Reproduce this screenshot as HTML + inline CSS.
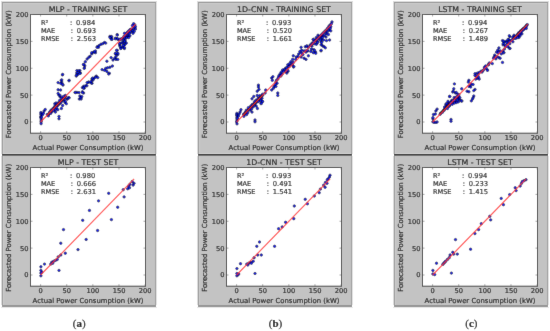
<!DOCTYPE html><html><head><meta charset="utf-8"><style>html,body{margin:0;padding:0;background:#fff;width:550px;height:331px;overflow:hidden}svg{display:block} text{stroke:#1a1a1a;stroke-width:0.16px;paint-order:stroke}</style></head><body>
<svg width="550" height="331" viewBox="0 0 550 331">
<defs><filter id="soft" x="0" y="0" width="550" height="331" filterUnits="userSpaceOnUse"><feConvolveMatrix order="3" kernelMatrix="5 62 5 62 733 62 5 62 5" edgeMode="duplicate"/></filter></defs><g filter="url(#soft)">
<rect x="0" y="0" width="550" height="331" fill="#fff"/>
<rect x="2" y="2" width="153.5" height="152" fill="#c3c3c3"/>
<rect x="1" y="2" width="1" height="152" fill="#dadada"/>
<rect x="2" y="2" width="1" height="152" fill="#9c9c9c"/>
<rect x="3" y="2" width="1" height="152" fill="#cacaca"/>
<rect x="155" y="2" width="1" height="152" fill="#a0a0a0"/>
<rect x="156" y="2" width="1" height="152" fill="#e2e2e2"/>
<rect x="1" y="1" width="156" height="1" fill="#dcdcdc"/>
<rect x="2" y="2" width="154" height="1" fill="#979797"/>
<rect x="3" y="3" width="152" height="1" fill="#cacaca"/>
<rect x="3" y="153" width="152" height="1" fill="#d0d0d0"/>
<rect x="2" y="154" width="154" height="1" fill="#2e2e2e"/>
<rect x="2" y="155" width="154" height="1" fill="#6e6e6e"/>
<rect x="30.5" y="14.5" width="115.0" height="118.69999999999999" fill="#fff" stroke="#404040" stroke-width="1"/>
<line x1="40.60" y1="133.2" x2="40.60" y2="131.2" stroke="#666" stroke-width="0.6"/>
<line x1="40.60" y1="14.5" x2="40.60" y2="16.5" stroke="#666" stroke-width="0.6"/>
<line x1="30.5" y1="122.00" x2="32.5" y2="122.00" stroke="#666" stroke-width="0.6"/>
<line x1="145.5" y1="122.00" x2="143.5" y2="122.00" stroke="#666" stroke-width="0.6"/>
<text x="40.75" y="140.30" font-size="6.7" text-anchor="middle" fill="#1a1a1a" font-family="'DejaVu Sans', 'Liberation Sans', sans-serif">0</text>
<text x="28.50" y="124.40" font-size="6.7" text-anchor="end" fill="#1a1a1a" font-family="'DejaVu Sans', 'Liberation Sans', sans-serif">0</text>
<line x1="66.72" y1="133.2" x2="66.72" y2="131.2" stroke="#666" stroke-width="0.6"/>
<line x1="66.72" y1="14.5" x2="66.72" y2="16.5" stroke="#666" stroke-width="0.6"/>
<line x1="30.5" y1="95.12" x2="32.5" y2="95.12" stroke="#666" stroke-width="0.6"/>
<line x1="145.5" y1="95.12" x2="143.5" y2="95.12" stroke="#666" stroke-width="0.6"/>
<text x="66.88" y="140.30" font-size="6.7" text-anchor="middle" fill="#1a1a1a" font-family="'DejaVu Sans', 'Liberation Sans', sans-serif">50</text>
<text x="28.50" y="97.53" font-size="6.7" text-anchor="end" fill="#1a1a1a" font-family="'DejaVu Sans', 'Liberation Sans', sans-serif">50</text>
<line x1="92.85" y1="133.2" x2="92.85" y2="131.2" stroke="#666" stroke-width="0.6"/>
<line x1="92.85" y1="14.5" x2="92.85" y2="16.5" stroke="#666" stroke-width="0.6"/>
<line x1="30.5" y1="68.25" x2="32.5" y2="68.25" stroke="#666" stroke-width="0.6"/>
<line x1="145.5" y1="68.25" x2="143.5" y2="68.25" stroke="#666" stroke-width="0.6"/>
<text x="93.00" y="140.30" font-size="6.7" text-anchor="middle" fill="#1a1a1a" font-family="'DejaVu Sans', 'Liberation Sans', sans-serif">100</text>
<text x="28.50" y="70.65" font-size="6.7" text-anchor="end" fill="#1a1a1a" font-family="'DejaVu Sans', 'Liberation Sans', sans-serif">100</text>
<line x1="118.97" y1="133.2" x2="118.97" y2="131.2" stroke="#666" stroke-width="0.6"/>
<line x1="118.97" y1="14.5" x2="118.97" y2="16.5" stroke="#666" stroke-width="0.6"/>
<line x1="30.5" y1="41.38" x2="32.5" y2="41.38" stroke="#666" stroke-width="0.6"/>
<line x1="145.5" y1="41.38" x2="143.5" y2="41.38" stroke="#666" stroke-width="0.6"/>
<text x="119.12" y="140.30" font-size="6.7" text-anchor="middle" fill="#1a1a1a" font-family="'DejaVu Sans', 'Liberation Sans', sans-serif">150</text>
<text x="28.50" y="43.77" font-size="6.7" text-anchor="end" fill="#1a1a1a" font-family="'DejaVu Sans', 'Liberation Sans', sans-serif">150</text>
<line x1="145.10" y1="133.2" x2="145.10" y2="131.2" stroke="#666" stroke-width="0.6"/>
<line x1="145.10" y1="14.5" x2="145.10" y2="16.5" stroke="#666" stroke-width="0.6"/>
<line x1="30.5" y1="14.50" x2="32.5" y2="14.50" stroke="#666" stroke-width="0.6"/>
<line x1="145.5" y1="14.50" x2="143.5" y2="14.50" stroke="#666" stroke-width="0.6"/>
<text x="145.25" y="140.30" font-size="6.7" text-anchor="middle" fill="#1a1a1a" font-family="'DejaVu Sans', 'Liberation Sans', sans-serif">200</text>
<text x="28.50" y="16.90" font-size="6.7" text-anchor="end" fill="#1a1a1a" font-family="'DejaVu Sans', 'Liberation Sans', sans-serif">200</text>
<g fill="#0818ff" stroke="#000028" stroke-width="0.6"><circle cx="40.84" cy="112.53" r="1.2"/><circle cx="40.92" cy="113.94" r="1.2"/><circle cx="41.08" cy="114.99" r="1.2"/><circle cx="40.71" cy="116.83" r="1.2"/><circle cx="40.86" cy="117.84" r="1.2"/><circle cx="41.3" cy="119.36" r="1.2"/><circle cx="41.2" cy="120.74" r="1.2"/><circle cx="41.08" cy="121.92" r="1.2"/><circle cx="41.08" cy="123.72" r="1.2"/><circle cx="41.51" cy="117.14" r="1.2"/><circle cx="42.48" cy="114.86" r="1.2"/><circle cx="43.4" cy="113.3" r="1.2"/><circle cx="44.01" cy="111.09" r="1.2"/><circle cx="45.22" cy="109.48" r="1.2"/><circle cx="47.82" cy="115.28" r="1.2"/><circle cx="48.67" cy="114.44" r="1.2"/><circle cx="49.2" cy="113.44" r="1.2"/><circle cx="50.1" cy="112.69" r="1.2"/><circle cx="51.39" cy="110.97" r="1.2"/><circle cx="51.5" cy="110.21" r="1.2"/><circle cx="53.18" cy="109.55" r="1.2"/><circle cx="53.69" cy="108.53" r="1.2"/><circle cx="54.43" cy="107.74" r="1.2"/><circle cx="55.12" cy="107.06" r="1.2"/><circle cx="56.21" cy="106.49" r="1.2"/><circle cx="57.16" cy="105.64" r="1.2"/><circle cx="58.18" cy="104.82" r="1.2"/><circle cx="58.85" cy="103.11" r="1.2"/><circle cx="59.89" cy="103.03" r="1.2"/><circle cx="60.79" cy="101.75" r="1.2"/><circle cx="61.45" cy="100.52" r="1.2"/><circle cx="62.42" cy="100.0" r="1.2"/><circle cx="62.73" cy="98.61" r="1.2"/><circle cx="64.15" cy="98.65" r="1.2"/><circle cx="64.24" cy="97.58" r="1.2"/><circle cx="65.41" cy="96.05" r="1.2"/><circle cx="48.35" cy="115.92" r="1.2"/><circle cx="50.64" cy="113.39" r="1.2"/><circle cx="51.92" cy="111.73" r="1.2"/><circle cx="53.63" cy="110.42" r="1.2"/><circle cx="55.42" cy="109.54" r="1.2"/><circle cx="56.56" cy="107.9" r="1.2"/><circle cx="57.91" cy="105.13" r="1.2"/><circle cx="59.85" cy="103.42" r="1.2"/><circle cx="60.96" cy="102.21" r="1.2"/><circle cx="63.04" cy="100.25" r="1.2"/><circle cx="63.95" cy="99.44" r="1.2"/><circle cx="47.28" cy="114.45" r="1.2"/><circle cx="49.75" cy="111.88" r="1.2"/><circle cx="51.01" cy="110.17" r="1.2"/><circle cx="53.01" cy="108.38" r="1.2"/><circle cx="54.68" cy="106.53" r="1.2"/><circle cx="56.92" cy="104.52" r="1.2"/><circle cx="58.08" cy="102.9" r="1.2"/><circle cx="59.63" cy="100.52" r="1.2"/><circle cx="62.3" cy="98.9" r="1.2"/><circle cx="63.56" cy="96.41" r="1.2"/><circle cx="59.0" cy="116.4" r="1.2"/><circle cx="59.0" cy="118.8" r="1.2"/><circle cx="55.4" cy="112.1" r="1.2"/><circle cx="57.8" cy="109.7" r="1.2"/><circle cx="61.4" cy="108.5" r="1.2"/><circle cx="62.6" cy="105.5" r="1.2"/><circle cx="65.0" cy="102.5" r="1.2"/><circle cx="66.3" cy="103.7" r="1.2"/><circle cx="67.5" cy="98.8" r="1.2"/><circle cx="59.0" cy="95.2" r="1.2"/><circle cx="60.2" cy="97.0" r="1.2"/><circle cx="68.7" cy="97.6" r="1.2"/><circle cx="54.8" cy="103.7" r="1.2"/><circle cx="56.0" cy="103.0" r="1.2"/><circle cx="83.6" cy="64.6" r="1.2"/><circle cx="84.8" cy="65.8" r="1.2"/><circle cx="84.2" cy="68.2" r="1.2"/><circle cx="76.9" cy="70.6" r="1.2"/><circle cx="79.9" cy="70.6" r="1.2"/><circle cx="76.9" cy="73.1" r="1.2"/><circle cx="80.5" cy="73.1" r="1.2"/><circle cx="78.1" cy="74.3" r="1.2"/><circle cx="76.3" cy="76.1" r="1.2"/><circle cx="62.4" cy="74.9" r="1.2"/><circle cx="61.2" cy="80.3" r="1.2"/><circle cx="61.8" cy="82.1" r="1.2"/><circle cx="63.0" cy="85.1" r="1.2"/><circle cx="60.6" cy="90.0" r="1.2"/><circle cx="69.1" cy="80.3" r="1.2"/><circle cx="96.3" cy="76.1" r="1.2"/><circle cx="93.8" cy="78.5" r="1.2"/><circle cx="92.0" cy="79.1" r="1.2"/><circle cx="92.6" cy="80.3" r="1.2"/><circle cx="88.4" cy="82.1" r="1.2"/><circle cx="92.0" cy="83.3" r="1.2"/><circle cx="86.0" cy="85.8" r="1.2"/><circle cx="83.6" cy="86.4" r="1.2"/><circle cx="82.4" cy="87.6" r="1.2"/><circle cx="84.2" cy="88.2" r="1.2"/><circle cx="82.4" cy="91.8" r="1.2"/><circle cx="83.6" cy="93.0" r="1.2"/><circle cx="75.1" cy="92.4" r="1.2"/><circle cx="76.9" cy="92.4" r="1.2"/><circle cx="79.9" cy="96.0" r="1.2"/><circle cx="81.8" cy="96.6" r="1.2"/><circle cx="79.3" cy="99.0" r="1.2"/><circle cx="81.1" cy="99.0" r="1.2"/><circle cx="69.1" cy="97.8" r="1.2"/><circle cx="67.3" cy="99.0" r="1.2"/><circle cx="65.4" cy="95.4" r="1.2"/><circle cx="65.4" cy="101.5" r="1.2"/><circle cx="90.0" cy="56.4" r="1.2"/><circle cx="91.8" cy="53.9" r="1.2"/><circle cx="93.6" cy="52.1" r="1.2"/><circle cx="95.4" cy="52.7" r="1.2"/><circle cx="95.4" cy="50.9" r="1.2"/><circle cx="97.3" cy="46.7" r="1.2"/><circle cx="99.1" cy="45.5" r="1.2"/><circle cx="100.9" cy="44.3" r="1.2"/><circle cx="102.7" cy="43.7" r="1.2"/><circle cx="104.5" cy="42.5" r="1.2"/><circle cx="105.7" cy="43.1" r="1.2"/><circle cx="98.5" cy="47.3" r="1.2"/><circle cx="109.9" cy="36.4" r="1.2"/><circle cx="111.8" cy="37.0" r="1.2"/><circle cx="111.1" cy="38.8" r="1.2"/><circle cx="111.8" cy="39.4" r="1.2"/><circle cx="115.4" cy="38.2" r="1.2"/><circle cx="117.2" cy="38.8" r="1.2"/><circle cx="118.4" cy="39.4" r="1.2"/><circle cx="120.2" cy="39.4" r="1.2"/><circle cx="122.0" cy="38.8" r="1.2"/><circle cx="123.8" cy="37.6" r="1.2"/><circle cx="125.6" cy="36.4" r="1.2"/><circle cx="126.9" cy="34.6" r="1.2"/><circle cx="128.1" cy="35.8" r="1.2"/><circle cx="117.2" cy="34.6" r="1.2"/><circle cx="120.2" cy="43.1" r="1.2"/><circle cx="119.6" cy="44.9" r="1.2"/><circle cx="122.6" cy="42.5" r="1.2"/><circle cx="125.0" cy="41.3" r="1.2"/><circle cx="126.3" cy="43.1" r="1.2"/><circle cx="124.4" cy="44.9" r="1.2"/><circle cx="123.2" cy="47.3" r="1.2"/><circle cx="120.2" cy="46.7" r="1.2"/><circle cx="120.8" cy="48.5" r="1.2"/><circle cx="124.4" cy="48.5" r="1.2"/><circle cx="117.2" cy="50.3" r="1.2"/><circle cx="115.4" cy="53.9" r="1.2"/><circle cx="117.8" cy="54.5" r="1.2"/><circle cx="116.0" cy="56.4" r="1.2"/><circle cx="111.1" cy="57.6" r="1.2"/><circle cx="114.8" cy="58.2" r="1.2"/><circle cx="116.0" cy="59.4" r="1.2"/><circle cx="117.8" cy="59.4" r="1.2"/><circle cx="113.0" cy="60.0" r="1.2"/><circle cx="106.9" cy="61.2" r="1.2"/><circle cx="112.4" cy="66.0" r="1.2"/><circle cx="109.9" cy="67.2" r="1.2"/><circle cx="107.5" cy="67.8" r="1.2"/><circle cx="105.7" cy="68.4" r="1.2"/><circle cx="102.1" cy="69.6" r="1.2"/><circle cx="104.5" cy="70.3" r="1.2"/><circle cx="106.9" cy="71.5" r="1.2"/><circle cx="109.3" cy="73.3" r="1.2"/><circle cx="133.6" cy="23.7" r="1.2"/><circle cx="134.8" cy="24.9" r="1.2"/><circle cx="132.4" cy="25.5" r="1.2"/><circle cx="135.4" cy="26.7" r="1.2"/><circle cx="134.2" cy="27.9" r="1.2"/><circle cx="133.0" cy="28.5" r="1.2"/><circle cx="135.4" cy="29.1" r="1.2"/><circle cx="131.1" cy="29.1" r="1.2"/><circle cx="129.9" cy="29.7" r="1.2"/><circle cx="128.7" cy="30.9" r="1.2"/><circle cx="132.4" cy="30.9" r="1.2"/><circle cx="134.2" cy="31.5" r="1.2"/><circle cx="127.5" cy="32.1" r="1.2"/><circle cx="130.5" cy="32.1" r="1.2"/><circle cx="133.0" cy="33.3" r="1.2"/><circle cx="126.3" cy="33.3" r="1.2"/><circle cx="129.3" cy="33.3" r="1.2"/><circle cx="124.5" cy="33.3" r="1.2"/><circle cx="128.1" cy="35.1" r="1.2"/><circle cx="129.9" cy="35.8" r="1.2"/><circle cx="125.7" cy="35.8" r="1.2"/><circle cx="126.9" cy="37.6" r="1.2"/><circle cx="128.7" cy="37.6" r="1.2"/><circle cx="123.9" cy="36.4" r="1.2"/><circle cx="124.5" cy="38.2" r="1.2"/><circle cx="125.1" cy="40.0" r="1.2"/><circle cx="122.7" cy="39.4" r="1.2"/><circle cx="121.5" cy="38.8" r="1.2"/><circle cx="119.7" cy="39.4" r="1.2"/><circle cx="117.3" cy="38.8" r="1.2"/><circle cx="115.4" cy="38.8" r="1.2"/><circle cx="117.3" cy="35.1" r="1.2"/><circle cx="111.2" cy="36.4" r="1.2"/><circle cx="111.8" cy="39.4" r="1.2"/><circle cx="110.0" cy="37.6" r="1.2"/><circle cx="124.5" cy="41.2" r="1.2"/><circle cx="122.1" cy="43.0" r="1.2"/><circle cx="119.7" cy="43.6" r="1.2"/><circle cx="125.1" cy="44.2" r="1.2"/><circle cx="123.3" cy="45.4" r="1.2"/><circle cx="120.3" cy="46.6" r="1.2"/><circle cx="124.5" cy="47.8" r="1.2"/><circle cx="120.9" cy="48.4" r="1.2"/><circle cx="116.6" cy="50.3" r="1.2"/><circle cx="115.4" cy="53.3" r="1.2"/><circle cx="117.9" cy="53.3" r="1.2"/><circle cx="86.9" cy="85.8" r="1.2"/><circle cx="88.7" cy="82.2" r="1.2"/><circle cx="92.3" cy="78.5" r="1.2"/><circle cx="93.2" cy="79.4" r="1.2"/><circle cx="96.0" cy="76.7" r="1.2"/><circle cx="97.8" cy="77.6" r="1.2"/><circle cx="91.4" cy="83.1" r="1.2"/><circle cx="108.7" cy="74.0" r="1.2"/><circle cx="97.1" cy="47.3" r="1.2"/><circle cx="94.4" cy="51.8" r="1.2"/><circle cx="91.7" cy="52.7" r="1.2"/><circle cx="88.9" cy="57.2" r="1.2"/><circle cx="87.1" cy="59.0" r="1.2"/><circle cx="85.3" cy="61.8" r="1.2"/><circle cx="83.5" cy="64.5" r="1.2"/><circle cx="84.4" cy="68.1" r="1.2"/><circle cx="79.0" cy="70.8" r="1.2"/><circle cx="77.2" cy="72.6" r="1.2"/><circle cx="76.3" cy="75.3" r="1.2"/><circle cx="79.9" cy="73.5" r="1.2"/><circle cx="62.7" cy="74.4" r="1.2"/><circle cx="61.8" cy="79.9" r="1.2"/><circle cx="58.1" cy="82.6" r="1.2"/><circle cx="60.8" cy="83.5" r="1.2"/><circle cx="62.7" cy="84.4" r="1.2"/><circle cx="69.0" cy="80.8" r="1.2"/><circle cx="58.1" cy="89.8" r="1.2"/><circle cx="58.1" cy="93.5" r="1.2"/><circle cx="60.0" cy="95.3" r="1.2"/><circle cx="61.8" cy="98.0" r="1.2"/><circle cx="92.6" cy="78.1" r="1.2"/><circle cx="95.3" cy="77.2" r="1.2"/><circle cx="90.8" cy="81.7" r="1.2"/><circle cx="87.1" cy="82.6" r="1.2"/><circle cx="84.4" cy="86.2" r="1.2"/><circle cx="83.5" cy="88.0" r="1.2"/><circle cx="75.3" cy="92.6" r="1.2"/><circle cx="79.0" cy="92.6" r="1.2"/><circle cx="82.6" cy="92.6" r="1.2"/><circle cx="80.8" cy="98.0" r="1.2"/><circle cx="68.1" cy="98.0" r="1.2"/></g>
<line x1="47.8" y1="114.7" x2="65.5" y2="96.4" stroke="#000018" stroke-width="1.8" stroke-linecap="round"/>
<line x1="40.60" y1="122.00" x2="135.69" y2="24.17" stroke="#ff3434" stroke-width="1.15" stroke-opacity="0.9"/>
<text x="88.00" y="11.7" font-size="7.85" text-anchor="middle" fill="#1a1a1a" font-family="'DejaVu Sans', 'Liberation Sans', sans-serif">MLP - TRAINING SET</text>
<text x="40.9" y="24.90" font-size="6.6" fill="#1a1a1a" font-family="'DejaVu Sans', 'Liberation Sans', sans-serif">R²</text>
<text x="69.90" y="24.90" font-size="6.7" fill="#1a1a1a" font-family="'DejaVu Sans', 'Liberation Sans', sans-serif">:</text>
<text x="75.90" y="24.90" font-size="6.75" fill="#1a1a1a" font-family="'DejaVu Sans', 'Liberation Sans', sans-serif">0.984</text>
<text x="40.9" y="33.15" font-size="6.6" fill="#1a1a1a" font-family="'DejaVu Sans', 'Liberation Sans', sans-serif">MAE</text>
<text x="70.70" y="33.15" font-size="6.7" fill="#1a1a1a" font-family="'DejaVu Sans', 'Liberation Sans', sans-serif">:</text>
<text x="76.70" y="33.15" font-size="6.75" fill="#1a1a1a" font-family="'DejaVu Sans', 'Liberation Sans', sans-serif">0.693</text>
<text x="40.9" y="41.15" font-size="6.6" fill="#1a1a1a" font-family="'DejaVu Sans', 'Liberation Sans', sans-serif">RMSE</text>
<text x="70.70" y="41.15" font-size="6.7" fill="#1a1a1a" font-family="'DejaVu Sans', 'Liberation Sans', sans-serif">:</text>
<text x="76.70" y="41.15" font-size="6.75" fill="#1a1a1a" font-family="'DejaVu Sans', 'Liberation Sans', sans-serif">2.563</text>
<text x="88.00" y="149.7" font-size="6.9" text-anchor="middle" fill="#1a1a1a" font-family="'DejaVu Sans', 'Liberation Sans', sans-serif">Actual Power Consumption (kW)</text>
<text transform="translate(11.2,74.25) rotate(-90)" x="0" y="0" font-size="6.95" text-anchor="middle" fill="#1a1a1a" font-family="'DejaVu Sans', 'Liberation Sans', sans-serif">Forecasted Power Consumption (kW)</text>
<rect x="198" y="2" width="153.5" height="152" fill="#c3c3c3"/>
<rect x="197" y="2" width="1" height="152" fill="#dadada"/>
<rect x="198" y="2" width="1" height="152" fill="#9c9c9c"/>
<rect x="199" y="2" width="1" height="152" fill="#cacaca"/>
<rect x="351" y="2" width="1" height="152" fill="#a0a0a0"/>
<rect x="352" y="2" width="1" height="152" fill="#e2e2e2"/>
<rect x="197" y="1" width="156" height="1" fill="#dcdcdc"/>
<rect x="198" y="2" width="154" height="1" fill="#979797"/>
<rect x="199" y="3" width="152" height="1" fill="#cacaca"/>
<rect x="199" y="153" width="152" height="1" fill="#d0d0d0"/>
<rect x="198" y="154" width="154" height="1" fill="#2e2e2e"/>
<rect x="198" y="155" width="154" height="1" fill="#6e6e6e"/>
<rect x="226.5" y="14.5" width="115.0" height="118.69999999999999" fill="#fff" stroke="#404040" stroke-width="1"/>
<line x1="236.60" y1="133.2" x2="236.60" y2="131.2" stroke="#666" stroke-width="0.6"/>
<line x1="236.60" y1="14.5" x2="236.60" y2="16.5" stroke="#666" stroke-width="0.6"/>
<line x1="226.5" y1="122.00" x2="228.5" y2="122.00" stroke="#666" stroke-width="0.6"/>
<line x1="341.5" y1="122.00" x2="339.5" y2="122.00" stroke="#666" stroke-width="0.6"/>
<text x="236.75" y="140.30" font-size="6.7" text-anchor="middle" fill="#1a1a1a" font-family="'DejaVu Sans', 'Liberation Sans', sans-serif">0</text>
<text x="224.50" y="124.40" font-size="6.7" text-anchor="end" fill="#1a1a1a" font-family="'DejaVu Sans', 'Liberation Sans', sans-serif">0</text>
<line x1="262.73" y1="133.2" x2="262.73" y2="131.2" stroke="#666" stroke-width="0.6"/>
<line x1="262.73" y1="14.5" x2="262.73" y2="16.5" stroke="#666" stroke-width="0.6"/>
<line x1="226.5" y1="95.12" x2="228.5" y2="95.12" stroke="#666" stroke-width="0.6"/>
<line x1="341.5" y1="95.12" x2="339.5" y2="95.12" stroke="#666" stroke-width="0.6"/>
<text x="262.88" y="140.30" font-size="6.7" text-anchor="middle" fill="#1a1a1a" font-family="'DejaVu Sans', 'Liberation Sans', sans-serif">50</text>
<text x="224.50" y="97.53" font-size="6.7" text-anchor="end" fill="#1a1a1a" font-family="'DejaVu Sans', 'Liberation Sans', sans-serif">50</text>
<line x1="288.85" y1="133.2" x2="288.85" y2="131.2" stroke="#666" stroke-width="0.6"/>
<line x1="288.85" y1="14.5" x2="288.85" y2="16.5" stroke="#666" stroke-width="0.6"/>
<line x1="226.5" y1="68.25" x2="228.5" y2="68.25" stroke="#666" stroke-width="0.6"/>
<line x1="341.5" y1="68.25" x2="339.5" y2="68.25" stroke="#666" stroke-width="0.6"/>
<text x="289.00" y="140.30" font-size="6.7" text-anchor="middle" fill="#1a1a1a" font-family="'DejaVu Sans', 'Liberation Sans', sans-serif">100</text>
<text x="224.50" y="70.65" font-size="6.7" text-anchor="end" fill="#1a1a1a" font-family="'DejaVu Sans', 'Liberation Sans', sans-serif">100</text>
<line x1="314.98" y1="133.2" x2="314.98" y2="131.2" stroke="#666" stroke-width="0.6"/>
<line x1="314.98" y1="14.5" x2="314.98" y2="16.5" stroke="#666" stroke-width="0.6"/>
<line x1="226.5" y1="41.38" x2="228.5" y2="41.38" stroke="#666" stroke-width="0.6"/>
<line x1="341.5" y1="41.38" x2="339.5" y2="41.38" stroke="#666" stroke-width="0.6"/>
<text x="315.12" y="140.30" font-size="6.7" text-anchor="middle" fill="#1a1a1a" font-family="'DejaVu Sans', 'Liberation Sans', sans-serif">150</text>
<text x="224.50" y="43.77" font-size="6.7" text-anchor="end" fill="#1a1a1a" font-family="'DejaVu Sans', 'Liberation Sans', sans-serif">150</text>
<line x1="341.10" y1="133.2" x2="341.10" y2="131.2" stroke="#666" stroke-width="0.6"/>
<line x1="341.10" y1="14.5" x2="341.10" y2="16.5" stroke="#666" stroke-width="0.6"/>
<line x1="226.5" y1="14.50" x2="228.5" y2="14.50" stroke="#666" stroke-width="0.6"/>
<line x1="341.5" y1="14.50" x2="339.5" y2="14.50" stroke="#666" stroke-width="0.6"/>
<text x="341.25" y="140.30" font-size="6.7" text-anchor="middle" fill="#1a1a1a" font-family="'DejaVu Sans', 'Liberation Sans', sans-serif">200</text>
<text x="224.50" y="16.90" font-size="6.7" text-anchor="end" fill="#1a1a1a" font-family="'DejaVu Sans', 'Liberation Sans', sans-serif">200</text>
<g fill="#0818ff" stroke="#000028" stroke-width="0.6"><circle cx="236.85" cy="113.35" r="1.2"/><circle cx="236.61" cy="114.84" r="1.2"/><circle cx="236.98" cy="115.98" r="1.2"/><circle cx="236.98" cy="117.69" r="1.2"/><circle cx="237.01" cy="119.1" r="1.2"/><circle cx="237.02" cy="120.8" r="1.2"/><circle cx="236.61" cy="121.86" r="1.2"/><circle cx="237.01" cy="123.88" r="1.2"/><circle cx="237.35" cy="118.17" r="1.2"/><circle cx="238.46" cy="115.97" r="1.2"/><circle cx="239.22" cy="113.84" r="1.2"/><circle cx="240.12" cy="111.88" r="1.2"/><circle cx="240.98" cy="109.63" r="1.2"/><circle cx="243.77" cy="114.43" r="1.2"/><circle cx="244.46" cy="114.21" r="1.2"/><circle cx="245.1" cy="112.77" r="1.2"/><circle cx="246.49" cy="111.87" r="1.2"/><circle cx="246.77" cy="111.14" r="1.2"/><circle cx="248.17" cy="109.88" r="1.2"/><circle cx="248.69" cy="109.19" r="1.2"/><circle cx="250.1" cy="108.37" r="1.2"/><circle cx="251.02" cy="107.18" r="1.2"/><circle cx="251.39" cy="106.74" r="1.2"/><circle cx="252.84" cy="105.61" r="1.2"/><circle cx="253.07" cy="104.36" r="1.2"/><circle cx="254.27" cy="103.51" r="1.2"/><circle cx="255.44" cy="103.23" r="1.2"/><circle cx="255.72" cy="101.75" r="1.2"/><circle cx="257.24" cy="101.18" r="1.2"/><circle cx="258.13" cy="99.96" r="1.2"/><circle cx="258.35" cy="98.99" r="1.2"/><circle cx="259.91" cy="98.04" r="1.2"/><circle cx="260.36" cy="97.26" r="1.2"/><circle cx="261.32" cy="96.33" r="1.2"/><circle cx="262.72" cy="95.16" r="1.2"/><circle cx="243.81" cy="116.33" r="1.2"/><circle cx="246.57" cy="114.6" r="1.2"/><circle cx="247.74" cy="112.78" r="1.2"/><circle cx="250.04" cy="110.13" r="1.2"/><circle cx="251.53" cy="109.08" r="1.2"/><circle cx="253.15" cy="106.92" r="1.2"/><circle cx="254.41" cy="104.93" r="1.2"/><circle cx="256.04" cy="102.82" r="1.2"/><circle cx="258.19" cy="101.3" r="1.2"/><circle cx="260.16" cy="99.23" r="1.2"/><circle cx="261.98" cy="98.23" r="1.2"/><circle cx="243.71" cy="114.28" r="1.2"/><circle cx="245.55" cy="111.91" r="1.2"/><circle cx="246.35" cy="110.14" r="1.2"/><circle cx="248.41" cy="107.63" r="1.2"/><circle cx="250.86" cy="105.92" r="1.2"/><circle cx="252.43" cy="104.44" r="1.2"/><circle cx="254.53" cy="101.74" r="1.2"/><circle cx="255.97" cy="100.39" r="1.2"/><circle cx="258.11" cy="98.32" r="1.2"/><circle cx="259.82" cy="95.64" r="1.2"/><circle cx="256.2" cy="106.1" r="1.2"/><circle cx="262.3" cy="101.3" r="1.2"/><circle cx="261.0" cy="103.7" r="1.2"/><circle cx="257.4" cy="108.5" r="1.2"/><circle cx="252.0" cy="112.1" r="1.2"/><circle cx="253.8" cy="96.4" r="1.2"/><circle cx="252.0" cy="98.8" r="1.2"/><circle cx="255.0" cy="120.0" r="1.2"/><circle cx="255.0" cy="121.8" r="1.2"/><circle cx="292.3" cy="64.6" r="1.2"/><circle cx="289.8" cy="65.8" r="1.2"/><circle cx="288.0" cy="66.4" r="1.2"/><circle cx="293.5" cy="67.0" r="1.2"/><circle cx="285.6" cy="68.2" r="1.2"/><circle cx="284.4" cy="69.4" r="1.2"/><circle cx="282.6" cy="70.0" r="1.2"/><circle cx="283.8" cy="71.3" r="1.2"/><circle cx="281.4" cy="71.9" r="1.2"/><circle cx="288.0" cy="71.3" r="1.2"/><circle cx="286.8" cy="73.1" r="1.2"/><circle cx="280.2" cy="73.7" r="1.2"/><circle cx="282.0" cy="74.3" r="1.2"/><circle cx="279.0" cy="75.5" r="1.2"/><circle cx="280.8" cy="76.1" r="1.2"/><circle cx="278.4" cy="77.3" r="1.2"/><circle cx="277.8" cy="79.1" r="1.2"/><circle cx="276.5" cy="80.3" r="1.2"/><circle cx="275.9" cy="82.1" r="1.2"/><circle cx="277.1" cy="83.3" r="1.2"/><circle cx="275.3" cy="84.5" r="1.2"/><circle cx="274.1" cy="86.4" r="1.2"/><circle cx="275.9" cy="86.4" r="1.2"/><circle cx="273.5" cy="88.2" r="1.2"/><circle cx="271.7" cy="77.9" r="1.2"/><circle cx="272.9" cy="76.7" r="1.2"/><circle cx="272.3" cy="80.3" r="1.2"/><circle cx="271.7" cy="90.0" r="1.2"/><circle cx="277.8" cy="93.0" r="1.2"/><circle cx="277.8" cy="95.4" r="1.2"/><circle cx="265.7" cy="90.0" r="1.2"/><circle cx="265.1" cy="93.0" r="1.2"/><circle cx="262.6" cy="94.2" r="1.2"/><circle cx="258.4" cy="85.1" r="1.2"/><circle cx="258.4" cy="87.0" r="1.2"/><circle cx="259.0" cy="89.4" r="1.2"/><circle cx="257.2" cy="91.2" r="1.2"/><circle cx="261.4" cy="96.6" r="1.2"/><circle cx="259.6" cy="97.8" r="1.2"/><circle cx="257.2" cy="95.4" r="1.2"/><circle cx="256.0" cy="100.3" r="1.2"/><circle cx="258.4" cy="101.5" r="1.2"/><circle cx="260.8" cy="100.3" r="1.2"/><circle cx="262.6" cy="101.5" r="1.2"/><circle cx="261.4" cy="103.3" r="1.2"/><circle cx="318.0" cy="35.2" r="1.2"/><circle cx="320.4" cy="36.4" r="1.2"/><circle cx="322.3" cy="35.8" r="1.2"/><circle cx="316.2" cy="37.6" r="1.2"/><circle cx="318.6" cy="38.2" r="1.2"/><circle cx="321.6" cy="38.8" r="1.2"/><circle cx="313.2" cy="39.4" r="1.2"/><circle cx="315.0" cy="40.6" r="1.2"/><circle cx="317.4" cy="41.3" r="1.2"/><circle cx="321.0" cy="41.9" r="1.2"/><circle cx="312.0" cy="43.1" r="1.2"/><circle cx="314.4" cy="43.7" r="1.2"/><circle cx="316.8" cy="43.7" r="1.2"/><circle cx="321.6" cy="44.9" r="1.2"/><circle cx="322.9" cy="46.1" r="1.2"/><circle cx="310.2" cy="44.9" r="1.2"/><circle cx="312.0" cy="46.1" r="1.2"/><circle cx="307.1" cy="46.1" r="1.2"/><circle cx="305.3" cy="46.7" r="1.2"/><circle cx="301.1" cy="47.3" r="1.2"/><circle cx="313.8" cy="49.7" r="1.2"/><circle cx="315.6" cy="52.1" r="1.2"/><circle cx="321.0" cy="50.9" r="1.2"/><circle cx="310.8" cy="51.5" r="1.2"/><circle cx="307.8" cy="50.9" r="1.2"/><circle cx="306.0" cy="50.9" r="1.2"/><circle cx="304.1" cy="50.9" r="1.2"/><circle cx="301.7" cy="50.3" r="1.2"/><circle cx="299.9" cy="51.5" r="1.2"/><circle cx="301.7" cy="53.3" r="1.2"/><circle cx="298.7" cy="54.0" r="1.2"/><circle cx="302.9" cy="54.5" r="1.2"/><circle cx="308.4" cy="55.8" r="1.2"/><circle cx="298.1" cy="56.4" r="1.2"/><circle cx="296.3" cy="57.0" r="1.2"/><circle cx="293.3" cy="55.8" r="1.2"/><circle cx="301.1" cy="57.0" r="1.2"/><circle cx="304.1" cy="58.2" r="1.2"/><circle cx="306.0" cy="59.4" r="1.2"/><circle cx="295.7" cy="59.4" r="1.2"/><circle cx="292.6" cy="59.4" r="1.2"/><circle cx="290.8" cy="61.8" r="1.2"/><circle cx="293.3" cy="62.4" r="1.2"/><circle cx="289.6" cy="63.6" r="1.2"/><circle cx="287.8" cy="64.8" r="1.2"/><circle cx="292.0" cy="64.8" r="1.2"/><circle cx="289.0" cy="66.6" r="1.2"/><circle cx="293.9" cy="66.6" r="1.2"/><circle cx="286.6" cy="67.8" r="1.2"/><circle cx="287.8" cy="70.3" r="1.2"/><circle cx="286.0" cy="71.5" r="1.2"/><circle cx="332.0" cy="21.9" r="1.2"/><circle cx="331.4" cy="23.7" r="1.2"/><circle cx="330.2" cy="24.9" r="1.2"/><circle cx="329.0" cy="26.1" r="1.2"/><circle cx="330.8" cy="26.7" r="1.2"/><circle cx="327.8" cy="27.9" r="1.2"/><circle cx="330.2" cy="28.5" r="1.2"/><circle cx="326.5" cy="29.7" r="1.2"/><circle cx="329.0" cy="30.3" r="1.2"/><circle cx="330.8" cy="30.9" r="1.2"/><circle cx="325.3" cy="30.9" r="1.2"/><circle cx="324.1" cy="32.1" r="1.2"/><circle cx="327.1" cy="32.1" r="1.2"/><circle cx="322.9" cy="33.3" r="1.2"/><circle cx="326.0" cy="33.9" r="1.2"/><circle cx="328.4" cy="34.5" r="1.2"/><circle cx="321.7" cy="34.5" r="1.2"/><circle cx="320.5" cy="35.8" r="1.2"/><circle cx="324.1" cy="35.8" r="1.2"/><circle cx="319.3" cy="37.0" r="1.2"/><circle cx="322.3" cy="37.6" r="1.2"/><circle cx="326.0" cy="37.0" r="1.2"/><circle cx="318.1" cy="38.2" r="1.2"/><circle cx="316.9" cy="39.4" r="1.2"/><circle cx="320.5" cy="40.0" r="1.2"/><circle cx="323.5" cy="40.0" r="1.2"/><circle cx="326.5" cy="40.6" r="1.2"/><circle cx="329.6" cy="40.0" r="1.2"/><circle cx="315.1" cy="40.6" r="1.2"/><circle cx="313.3" cy="39.4" r="1.2"/><circle cx="313.9" cy="41.8" r="1.2"/><circle cx="317.5" cy="42.4" r="1.2"/><circle cx="321.7" cy="42.4" r="1.2"/><circle cx="312.6" cy="43.6" r="1.2"/><circle cx="316.3" cy="44.2" r="1.2"/><circle cx="321.1" cy="44.8" r="1.2"/><circle cx="324.1" cy="46.6" r="1.2"/><circle cx="325.3" cy="47.8" r="1.2"/><circle cx="310.8" cy="45.4" r="1.2"/><circle cx="308.4" cy="47.2" r="1.2"/><circle cx="306.6" cy="46.0" r="1.2"/><circle cx="311.4" cy="49.0" r="1.2"/><circle cx="314.5" cy="50.3" r="1.2"/><circle cx="307.2" cy="50.3" r="1.2"/><circle cx="306.0" cy="52.1" r="1.2"/><circle cx="321.1" cy="50.3" r="1.2"/><circle cx="313.3" cy="52.7" r="1.2"/><circle cx="315.7" cy="53.3" r="1.2"/></g>
<line x1="243.7" y1="114.7" x2="262.3" y2="95.5" stroke="#000018" stroke-width="1.8" stroke-linecap="round"/>
<line x1="236.60" y1="122.00" x2="331.69" y2="24.17" stroke="#ff3434" stroke-width="1.15" stroke-opacity="0.9"/>
<text x="284.00" y="11.7" font-size="7.85" text-anchor="middle" fill="#1a1a1a" font-family="'DejaVu Sans', 'Liberation Sans', sans-serif">1D-CNN - TRAINING SET</text>
<text x="236.9" y="24.90" font-size="6.6" fill="#1a1a1a" font-family="'DejaVu Sans', 'Liberation Sans', sans-serif">R²</text>
<text x="265.90" y="24.90" font-size="6.7" fill="#1a1a1a" font-family="'DejaVu Sans', 'Liberation Sans', sans-serif">:</text>
<text x="271.90" y="24.90" font-size="6.75" fill="#1a1a1a" font-family="'DejaVu Sans', 'Liberation Sans', sans-serif">0.993</text>
<text x="236.9" y="33.15" font-size="6.6" fill="#1a1a1a" font-family="'DejaVu Sans', 'Liberation Sans', sans-serif">MAE</text>
<text x="266.70" y="33.15" font-size="6.7" fill="#1a1a1a" font-family="'DejaVu Sans', 'Liberation Sans', sans-serif">:</text>
<text x="272.70" y="33.15" font-size="6.75" fill="#1a1a1a" font-family="'DejaVu Sans', 'Liberation Sans', sans-serif">0.520</text>
<text x="236.9" y="41.15" font-size="6.6" fill="#1a1a1a" font-family="'DejaVu Sans', 'Liberation Sans', sans-serif">RMSE</text>
<text x="266.70" y="41.15" font-size="6.7" fill="#1a1a1a" font-family="'DejaVu Sans', 'Liberation Sans', sans-serif">:</text>
<text x="272.70" y="41.15" font-size="6.75" fill="#1a1a1a" font-family="'DejaVu Sans', 'Liberation Sans', sans-serif">1.661</text>
<text x="284.00" y="149.7" font-size="6.9" text-anchor="middle" fill="#1a1a1a" font-family="'DejaVu Sans', 'Liberation Sans', sans-serif">Actual Power Consumption (kW)</text>
<text transform="translate(207.2,74.25) rotate(-90)" x="0" y="0" font-size="6.95" text-anchor="middle" fill="#1a1a1a" font-family="'DejaVu Sans', 'Liberation Sans', sans-serif">Forecasted Power Consumption (kW)</text>
<rect x="394" y="2" width="153.5" height="152" fill="#c3c3c3"/>
<rect x="393" y="2" width="1" height="152" fill="#dadada"/>
<rect x="394" y="2" width="1" height="152" fill="#9c9c9c"/>
<rect x="395" y="2" width="1" height="152" fill="#cacaca"/>
<rect x="547" y="2" width="1" height="152" fill="#a0a0a0"/>
<rect x="548" y="2" width="1" height="152" fill="#e2e2e2"/>
<rect x="393" y="1" width="156" height="1" fill="#dcdcdc"/>
<rect x="394" y="2" width="154" height="1" fill="#979797"/>
<rect x="395" y="3" width="152" height="1" fill="#cacaca"/>
<rect x="395" y="153" width="152" height="1" fill="#d0d0d0"/>
<rect x="394" y="154" width="154" height="1" fill="#2e2e2e"/>
<rect x="394" y="155" width="154" height="1" fill="#6e6e6e"/>
<rect x="422.5" y="14.5" width="115.0" height="118.69999999999999" fill="#fff" stroke="#404040" stroke-width="1"/>
<line x1="432.60" y1="133.2" x2="432.60" y2="131.2" stroke="#666" stroke-width="0.6"/>
<line x1="432.60" y1="14.5" x2="432.60" y2="16.5" stroke="#666" stroke-width="0.6"/>
<line x1="422.5" y1="122.00" x2="424.5" y2="122.00" stroke="#666" stroke-width="0.6"/>
<line x1="537.5" y1="122.00" x2="535.5" y2="122.00" stroke="#666" stroke-width="0.6"/>
<text x="432.75" y="140.30" font-size="6.7" text-anchor="middle" fill="#1a1a1a" font-family="'DejaVu Sans', 'Liberation Sans', sans-serif">0</text>
<text x="420.50" y="124.40" font-size="6.7" text-anchor="end" fill="#1a1a1a" font-family="'DejaVu Sans', 'Liberation Sans', sans-serif">0</text>
<line x1="458.73" y1="133.2" x2="458.73" y2="131.2" stroke="#666" stroke-width="0.6"/>
<line x1="458.73" y1="14.5" x2="458.73" y2="16.5" stroke="#666" stroke-width="0.6"/>
<line x1="422.5" y1="95.12" x2="424.5" y2="95.12" stroke="#666" stroke-width="0.6"/>
<line x1="537.5" y1="95.12" x2="535.5" y2="95.12" stroke="#666" stroke-width="0.6"/>
<text x="458.88" y="140.30" font-size="6.7" text-anchor="middle" fill="#1a1a1a" font-family="'DejaVu Sans', 'Liberation Sans', sans-serif">50</text>
<text x="420.50" y="97.53" font-size="6.7" text-anchor="end" fill="#1a1a1a" font-family="'DejaVu Sans', 'Liberation Sans', sans-serif">50</text>
<line x1="484.85" y1="133.2" x2="484.85" y2="131.2" stroke="#666" stroke-width="0.6"/>
<line x1="484.85" y1="14.5" x2="484.85" y2="16.5" stroke="#666" stroke-width="0.6"/>
<line x1="422.5" y1="68.25" x2="424.5" y2="68.25" stroke="#666" stroke-width="0.6"/>
<line x1="537.5" y1="68.25" x2="535.5" y2="68.25" stroke="#666" stroke-width="0.6"/>
<text x="485.00" y="140.30" font-size="6.7" text-anchor="middle" fill="#1a1a1a" font-family="'DejaVu Sans', 'Liberation Sans', sans-serif">100</text>
<text x="420.50" y="70.65" font-size="6.7" text-anchor="end" fill="#1a1a1a" font-family="'DejaVu Sans', 'Liberation Sans', sans-serif">100</text>
<line x1="510.98" y1="133.2" x2="510.98" y2="131.2" stroke="#666" stroke-width="0.6"/>
<line x1="510.98" y1="14.5" x2="510.98" y2="16.5" stroke="#666" stroke-width="0.6"/>
<line x1="422.5" y1="41.38" x2="424.5" y2="41.38" stroke="#666" stroke-width="0.6"/>
<line x1="537.5" y1="41.38" x2="535.5" y2="41.38" stroke="#666" stroke-width="0.6"/>
<text x="511.12" y="140.30" font-size="6.7" text-anchor="middle" fill="#1a1a1a" font-family="'DejaVu Sans', 'Liberation Sans', sans-serif">150</text>
<text x="420.50" y="43.77" font-size="6.7" text-anchor="end" fill="#1a1a1a" font-family="'DejaVu Sans', 'Liberation Sans', sans-serif">150</text>
<line x1="537.10" y1="133.2" x2="537.10" y2="131.2" stroke="#666" stroke-width="0.6"/>
<line x1="537.10" y1="14.5" x2="537.10" y2="16.5" stroke="#666" stroke-width="0.6"/>
<line x1="422.5" y1="14.50" x2="424.5" y2="14.50" stroke="#666" stroke-width="0.6"/>
<line x1="537.5" y1="14.50" x2="535.5" y2="14.50" stroke="#666" stroke-width="0.6"/>
<text x="537.25" y="140.30" font-size="6.7" text-anchor="middle" fill="#1a1a1a" font-family="'DejaVu Sans', 'Liberation Sans', sans-serif">200</text>
<text x="420.50" y="16.90" font-size="6.7" text-anchor="end" fill="#1a1a1a" font-family="'DejaVu Sans', 'Liberation Sans', sans-serif">200</text>
<g fill="#0818ff" stroke="#000028" stroke-width="0.6"><circle cx="440.13" cy="114.25" r="1.2"/><circle cx="440.83" cy="113.23" r="1.2"/><circle cx="442.42" cy="112.24" r="1.2"/><circle cx="443.33" cy="110.61" r="1.2"/><circle cx="444.16" cy="110.29" r="1.2"/><circle cx="444.68" cy="108.82" r="1.2"/><circle cx="445.85" cy="108.02" r="1.2"/><circle cx="446.96" cy="106.98" r="1.2"/><circle cx="448.23" cy="105.6" r="1.2"/><circle cx="448.64" cy="104.7" r="1.2"/><circle cx="446.02" cy="104.88" r="1.2"/><circle cx="449.16" cy="106.08" r="1.2"/><circle cx="447.77" cy="104.31" r="1.2"/><circle cx="449.29" cy="102.98" r="1.2"/><circle cx="450.31" cy="103.0" r="1.2"/><circle cx="451.84" cy="101.41" r="1.2"/><circle cx="451.74" cy="100.48" r="1.2"/><circle cx="452.48" cy="100.22" r="1.2"/><circle cx="454.95" cy="98.92" r="1.2"/><circle cx="454.22" cy="97.55" r="1.2"/><circle cx="455.9" cy="97.81" r="1.2"/><circle cx="457.89" cy="96.38" r="1.2"/><circle cx="458.86" cy="96.17" r="1.2"/><circle cx="458.82" cy="94.67" r="1.2"/><circle cx="448.99" cy="105.11" r="1.2"/><circle cx="450.05" cy="104.15" r="1.2"/><circle cx="451.45" cy="101.88" r="1.2"/><circle cx="452.96" cy="102.3" r="1.2"/><circle cx="452.86" cy="100.56" r="1.2"/><circle cx="455.21" cy="101.0" r="1.2"/><circle cx="458.02" cy="98.55" r="1.2"/><circle cx="459.19" cy="98.87" r="1.2"/><circle cx="449.6" cy="96.5" r="1.2"/><circle cx="452.8" cy="92.0" r="1.2"/><circle cx="455.5" cy="93.0" r="1.2"/><circle cx="461.8" cy="101.0" r="1.2"/><circle cx="446.0" cy="104.0" r="1.2"/><circle cx="444.6" cy="107.0" r="1.2"/><circle cx="513.36" cy="38.58" r="1.2"/><circle cx="514.19" cy="37.85" r="1.2"/><circle cx="515.42" cy="36.97" r="1.2"/><circle cx="516.42" cy="35.9" r="1.2"/><circle cx="517.29" cy="34.9" r="1.2"/><circle cx="517.83" cy="33.99" r="1.2"/><circle cx="518.68" cy="32.79" r="1.2"/><circle cx="520.06" cy="31.79" r="1.2"/><circle cx="520.56" cy="30.89" r="1.2"/><circle cx="521.95" cy="30.01" r="1.2"/><circle cx="522.35" cy="29.47" r="1.2"/><circle cx="523.32" cy="28.54" r="1.2"/><circle cx="524.56" cy="27.6" r="1.2"/><circle cx="525.64" cy="26.51" r="1.2"/><circle cx="526.47" cy="25.26" r="1.2"/><circle cx="527.36" cy="24.61" r="1.2"/><circle cx="515.17" cy="38.29" r="1.2"/><circle cx="516.64" cy="37.45" r="1.2"/><circle cx="517.52" cy="35.46" r="1.2"/><circle cx="519.36" cy="34.36" r="1.2"/><circle cx="520.54" cy="32.34" r="1.2"/><circle cx="521.99" cy="31.19" r="1.2"/><circle cx="523.83" cy="29.51" r="1.2"/><circle cx="524.96" cy="28.02" r="1.2"/><circle cx="526.38" cy="26.53" r="1.2"/><circle cx="432.9" cy="121.8" r="1.2"/><circle cx="434.1" cy="122.4" r="1.2"/><circle cx="435.9" cy="122.4" r="1.2"/><circle cx="437.1" cy="122.0" r="1.2"/><circle cx="432.9" cy="118.8" r="1.2"/><circle cx="432.9" cy="117.6" r="1.2"/><circle cx="433.5" cy="114.5" r="1.2"/><circle cx="435.3" cy="114.0" r="1.2"/><circle cx="435.9" cy="110.9" r="1.2"/><circle cx="437.1" cy="109.1" r="1.2"/><circle cx="449.8" cy="96.4" r="1.2"/><circle cx="448.0" cy="101.3" r="1.2"/><circle cx="446.8" cy="103.7" r="1.2"/><circle cx="454.6" cy="100.6" r="1.2"/><circle cx="456.4" cy="102.5" r="1.2"/><circle cx="458.3" cy="101.9" r="1.2"/><circle cx="457.6" cy="100.0" r="1.2"/><circle cx="460.7" cy="100.6" r="1.2"/><circle cx="454.6" cy="103.1" r="1.2"/><circle cx="452.2" cy="104.3" r="1.2"/><circle cx="451.0" cy="102.5" r="1.2"/><circle cx="449.2" cy="106.1" r="1.2"/><circle cx="447.4" cy="108.5" r="1.2"/><circle cx="451.0" cy="119.4" r="1.2"/><circle cx="451.0" cy="121.2" r="1.2"/><circle cx="488.3" cy="64.6" r="1.2"/><circle cx="485.8" cy="67.0" r="1.2"/><circle cx="484.6" cy="68.2" r="1.2"/><circle cx="487.6" cy="70.0" r="1.2"/><circle cx="482.8" cy="70.6" r="1.2"/><circle cx="481.0" cy="71.3" r="1.2"/><circle cx="479.2" cy="72.5" r="1.2"/><circle cx="477.4" cy="73.1" r="1.2"/><circle cx="475.0" cy="73.7" r="1.2"/><circle cx="478.0" cy="74.9" r="1.2"/><circle cx="476.2" cy="76.1" r="1.2"/><circle cx="475.0" cy="75.5" r="1.2"/><circle cx="478.6" cy="77.3" r="1.2"/><circle cx="476.8" cy="78.5" r="1.2"/><circle cx="479.2" cy="79.1" r="1.2"/><circle cx="475.6" cy="79.1" r="1.2"/><circle cx="468.9" cy="80.3" r="1.2"/><circle cx="468.3" cy="82.1" r="1.2"/><circle cx="471.3" cy="83.9" r="1.2"/><circle cx="473.1" cy="84.5" r="1.2"/><circle cx="470.1" cy="85.8" r="1.2"/><circle cx="468.9" cy="86.4" r="1.2"/><circle cx="470.7" cy="87.0" r="1.2"/><circle cx="475.0" cy="89.4" r="1.2"/><circle cx="473.8" cy="90.6" r="1.2"/><circle cx="467.1" cy="91.2" r="1.2"/><circle cx="468.9" cy="91.8" r="1.2"/><circle cx="461.7" cy="88.8" r="1.2"/><circle cx="454.4" cy="83.9" r="1.2"/><circle cx="453.8" cy="88.8" r="1.2"/><circle cx="453.2" cy="91.2" r="1.2"/><circle cx="456.2" cy="92.4" r="1.2"/><circle cx="458.0" cy="94.2" r="1.2"/><circle cx="473.8" cy="96.0" r="1.2"/><circle cx="473.1" cy="97.8" r="1.2"/><circle cx="472.5" cy="99.0" r="1.2"/><circle cx="471.3" cy="100.9" r="1.2"/><circle cx="461.7" cy="100.9" r="1.2"/><circle cx="459.9" cy="97.8" r="1.2"/><circle cx="456.8" cy="96.6" r="1.2"/><circle cx="514.0" cy="35.2" r="1.2"/><circle cx="517.0" cy="36.4" r="1.2"/><circle cx="518.9" cy="37.6" r="1.2"/><circle cx="515.8" cy="38.2" r="1.2"/><circle cx="512.8" cy="37.0" r="1.2"/><circle cx="509.8" cy="36.4" r="1.2"/><circle cx="508.6" cy="39.4" r="1.2"/><circle cx="511.0" cy="40.6" r="1.2"/><circle cx="506.2" cy="41.3" r="1.2"/><circle cx="502.5" cy="40.6" r="1.2"/><circle cx="503.8" cy="42.5" r="1.2"/><circle cx="507.4" cy="43.1" r="1.2"/><circle cx="509.8" cy="43.7" r="1.2"/><circle cx="503.1" cy="44.9" r="1.2"/><circle cx="505.6" cy="46.1" r="1.2"/><circle cx="508.0" cy="46.7" r="1.2"/><circle cx="509.8" cy="48.5" r="1.2"/><circle cx="498.9" cy="47.9" r="1.2"/><circle cx="497.7" cy="50.3" r="1.2"/><circle cx="500.1" cy="50.9" r="1.2"/><circle cx="496.5" cy="52.1" r="1.2"/><circle cx="498.3" cy="52.7" r="1.2"/><circle cx="503.8" cy="52.7" r="1.2"/><circle cx="501.3" cy="53.9" r="1.2"/><circle cx="494.7" cy="55.1" r="1.2"/><circle cx="494.1" cy="57.0" r="1.2"/><circle cx="497.1" cy="56.4" r="1.2"/><circle cx="498.9" cy="57.6" r="1.2"/><circle cx="500.1" cy="58.2" r="1.2"/><circle cx="493.5" cy="58.2" r="1.2"/><circle cx="495.9" cy="58.8" r="1.2"/><circle cx="502.5" cy="62.4" r="1.2"/><circle cx="492.3" cy="63.6" r="1.2"/><circle cx="489.3" cy="63.0" r="1.2"/><circle cx="488.6" cy="64.8" r="1.2"/><circle cx="485.6" cy="66.0" r="1.2"/><circle cx="484.4" cy="67.2" r="1.2"/><circle cx="486.2" cy="68.4" r="1.2"/><circle cx="487.4" cy="70.3" r="1.2"/><circle cx="483.2" cy="70.3" r="1.2"/><circle cx="482.0" cy="72.1" r="1.2"/><circle cx="526.2" cy="28.5" r="1.2"/><circle cx="521.9" cy="33.9" r="1.2"/><circle cx="520.1" cy="35.8" r="1.2"/><circle cx="517.7" cy="37.6" r="1.2"/><circle cx="509.3" cy="35.8" r="1.2"/><circle cx="508.0" cy="39.4" r="1.2"/><circle cx="509.3" cy="41.2" r="1.2"/><circle cx="511.7" cy="40.0" r="1.2"/><circle cx="512.9" cy="41.8" r="1.2"/><circle cx="506.8" cy="42.4" r="1.2"/><circle cx="503.8" cy="41.2" r="1.2"/><circle cx="503.2" cy="43.6" r="1.2"/><circle cx="505.6" cy="45.4" r="1.2"/><circle cx="507.4" cy="46.6" r="1.2"/><circle cx="509.9" cy="48.4" r="1.2"/><circle cx="504.4" cy="49.0" r="1.2"/><circle cx="502.6" cy="50.9" r="1.2"/><circle cx="503.8" cy="52.7" r="1.2"/></g>
<line x1="440.0" y1="113.4" x2="449.0" y2="104.6" stroke="#000018" stroke-width="1.8" stroke-linecap="round"/>
<line x1="513.0" y1="38.6" x2="527.0" y2="24.8" stroke="#000018" stroke-width="1.3" stroke-linecap="round"/>
<line x1="432.60" y1="122.00" x2="527.70" y2="24.17" stroke="#ff3434" stroke-width="1.15" stroke-opacity="0.9"/>
<text x="480.00" y="11.7" font-size="7.85" text-anchor="middle" fill="#1a1a1a" font-family="'DejaVu Sans', 'Liberation Sans', sans-serif">LSTM - TRAINING SET</text>
<text x="432.9" y="24.90" font-size="6.6" fill="#1a1a1a" font-family="'DejaVu Sans', 'Liberation Sans', sans-serif">R²</text>
<text x="461.90" y="24.90" font-size="6.7" fill="#1a1a1a" font-family="'DejaVu Sans', 'Liberation Sans', sans-serif">:</text>
<text x="467.90" y="24.90" font-size="6.75" fill="#1a1a1a" font-family="'DejaVu Sans', 'Liberation Sans', sans-serif">0.994</text>
<text x="432.9" y="33.15" font-size="6.6" fill="#1a1a1a" font-family="'DejaVu Sans', 'Liberation Sans', sans-serif">MAE</text>
<text x="462.70" y="33.15" font-size="6.7" fill="#1a1a1a" font-family="'DejaVu Sans', 'Liberation Sans', sans-serif">:</text>
<text x="468.70" y="33.15" font-size="6.75" fill="#1a1a1a" font-family="'DejaVu Sans', 'Liberation Sans', sans-serif">0.267</text>
<text x="432.9" y="41.15" font-size="6.6" fill="#1a1a1a" font-family="'DejaVu Sans', 'Liberation Sans', sans-serif">RMSE</text>
<text x="462.70" y="41.15" font-size="6.7" fill="#1a1a1a" font-family="'DejaVu Sans', 'Liberation Sans', sans-serif">:</text>
<text x="468.70" y="41.15" font-size="6.75" fill="#1a1a1a" font-family="'DejaVu Sans', 'Liberation Sans', sans-serif">1.489</text>
<text x="480.00" y="149.7" font-size="6.9" text-anchor="middle" fill="#1a1a1a" font-family="'DejaVu Sans', 'Liberation Sans', sans-serif">Actual Power Consumption (kW)</text>
<text transform="translate(403.2,74.25) rotate(-90)" x="0" y="0" font-size="6.95" text-anchor="middle" fill="#1a1a1a" font-family="'DejaVu Sans', 'Liberation Sans', sans-serif">Forecasted Power Consumption (kW)</text>
<rect x="2" y="156" width="153.5" height="149" fill="#c3c3c3"/>
<rect x="1" y="156" width="1" height="149" fill="#dadada"/>
<rect x="2" y="156" width="1" height="149" fill="#9c9c9c"/>
<rect x="3" y="156" width="1" height="149" fill="#cacaca"/>
<rect x="155" y="156" width="1" height="149" fill="#a0a0a0"/>
<rect x="156" y="156" width="1" height="149" fill="#e2e2e2"/>
<rect x="2" y="305" width="154" height="2" fill="#959595"/>
<rect x="1" y="307" width="156" height="1" fill="#e6e6e6"/>
<rect x="30.5" y="167.5" width="115.0" height="118.69999999999999" fill="#fff" stroke="#404040" stroke-width="1"/>
<line x1="40.60" y1="286.2" x2="40.60" y2="284.2" stroke="#666" stroke-width="0.6"/>
<line x1="40.60" y1="167.5" x2="40.60" y2="169.5" stroke="#666" stroke-width="0.6"/>
<line x1="30.5" y1="275.00" x2="32.5" y2="275.00" stroke="#666" stroke-width="0.6"/>
<line x1="145.5" y1="275.00" x2="143.5" y2="275.00" stroke="#666" stroke-width="0.6"/>
<text x="40.75" y="293.30" font-size="6.7" text-anchor="middle" fill="#1a1a1a" font-family="'DejaVu Sans', 'Liberation Sans', sans-serif">0</text>
<text x="28.50" y="277.40" font-size="6.7" text-anchor="end" fill="#1a1a1a" font-family="'DejaVu Sans', 'Liberation Sans', sans-serif">0</text>
<line x1="66.72" y1="286.2" x2="66.72" y2="284.2" stroke="#666" stroke-width="0.6"/>
<line x1="66.72" y1="167.5" x2="66.72" y2="169.5" stroke="#666" stroke-width="0.6"/>
<line x1="30.5" y1="248.12" x2="32.5" y2="248.12" stroke="#666" stroke-width="0.6"/>
<line x1="145.5" y1="248.12" x2="143.5" y2="248.12" stroke="#666" stroke-width="0.6"/>
<text x="66.88" y="293.30" font-size="6.7" text-anchor="middle" fill="#1a1a1a" font-family="'DejaVu Sans', 'Liberation Sans', sans-serif">50</text>
<text x="28.50" y="250.53" font-size="6.7" text-anchor="end" fill="#1a1a1a" font-family="'DejaVu Sans', 'Liberation Sans', sans-serif">50</text>
<line x1="92.85" y1="286.2" x2="92.85" y2="284.2" stroke="#666" stroke-width="0.6"/>
<line x1="92.85" y1="167.5" x2="92.85" y2="169.5" stroke="#666" stroke-width="0.6"/>
<line x1="30.5" y1="221.25" x2="32.5" y2="221.25" stroke="#666" stroke-width="0.6"/>
<line x1="145.5" y1="221.25" x2="143.5" y2="221.25" stroke="#666" stroke-width="0.6"/>
<text x="93.00" y="293.30" font-size="6.7" text-anchor="middle" fill="#1a1a1a" font-family="'DejaVu Sans', 'Liberation Sans', sans-serif">100</text>
<text x="28.50" y="223.65" font-size="6.7" text-anchor="end" fill="#1a1a1a" font-family="'DejaVu Sans', 'Liberation Sans', sans-serif">100</text>
<line x1="118.97" y1="286.2" x2="118.97" y2="284.2" stroke="#666" stroke-width="0.6"/>
<line x1="118.97" y1="167.5" x2="118.97" y2="169.5" stroke="#666" stroke-width="0.6"/>
<line x1="30.5" y1="194.38" x2="32.5" y2="194.38" stroke="#666" stroke-width="0.6"/>
<line x1="145.5" y1="194.38" x2="143.5" y2="194.38" stroke="#666" stroke-width="0.6"/>
<text x="119.12" y="293.30" font-size="6.7" text-anchor="middle" fill="#1a1a1a" font-family="'DejaVu Sans', 'Liberation Sans', sans-serif">150</text>
<text x="28.50" y="196.78" font-size="6.7" text-anchor="end" fill="#1a1a1a" font-family="'DejaVu Sans', 'Liberation Sans', sans-serif">150</text>
<line x1="145.10" y1="286.2" x2="145.10" y2="284.2" stroke="#666" stroke-width="0.6"/>
<line x1="145.10" y1="167.5" x2="145.10" y2="169.5" stroke="#666" stroke-width="0.6"/>
<line x1="30.5" y1="167.50" x2="32.5" y2="167.50" stroke="#666" stroke-width="0.6"/>
<line x1="145.5" y1="167.50" x2="143.5" y2="167.50" stroke="#666" stroke-width="0.6"/>
<text x="145.25" y="293.30" font-size="6.7" text-anchor="middle" fill="#1a1a1a" font-family="'DejaVu Sans', 'Liberation Sans', sans-serif">200</text>
<text x="28.50" y="169.90" font-size="6.7" text-anchor="end" fill="#1a1a1a" font-family="'DejaVu Sans', 'Liberation Sans', sans-serif">200</text>
<g fill="#0818ff" stroke="#000028" stroke-width="0.6"><circle cx="63.5" cy="229.6" r="1.2"/><circle cx="86.15" cy="239.45" r="1.2"/><circle cx="60.8" cy="243.2" r="1.2"/><circle cx="78.0" cy="249.6" r="1.2"/><circle cx="65.3" cy="253.2" r="1.2"/><circle cx="60.8" cy="255.0" r="1.2"/><circle cx="58.2" cy="256.85" r="1.2"/><circle cx="57.2" cy="259.5" r="1.2"/><circle cx="55.4" cy="260.4" r="1.2"/><circle cx="53.6" cy="261.3" r="1.2"/><circle cx="51.8" cy="262.3" r="1.2"/><circle cx="50.8" cy="264.1" r="1.2"/><circle cx="52.7" cy="263.2" r="1.2"/><circle cx="44.5" cy="264.1" r="1.2"/><circle cx="40.9" cy="266.8" r="1.2"/><circle cx="40.9" cy="270.4" r="1.2"/><circle cx="40.9" cy="273.1" r="1.2"/><circle cx="40.9" cy="275.8" r="1.2"/><circle cx="41.8" cy="272.2" r="1.2"/><circle cx="59.0" cy="270.4" r="1.2"/><circle cx="132.2" cy="181.5" r="1.2"/><circle cx="134.0" cy="183.3" r="1.2"/><circle cx="129.95" cy="184.2" r="1.2"/><circle cx="128.6" cy="186.0" r="1.2"/><circle cx="133.1" cy="185.1" r="1.2"/><circle cx="127.7" cy="188.8" r="1.2"/><circle cx="129.5" cy="187.8" r="1.2"/><circle cx="123.2" cy="189.7" r="1.2"/><circle cx="108.7" cy="193.3" r="1.2"/><circle cx="124.1" cy="196.9" r="1.2"/><circle cx="98.55" cy="200.85" r="1.2"/><circle cx="117.7" cy="207.2" r="1.2"/><circle cx="89.45" cy="210.4" r="1.2"/><circle cx="111.4" cy="219.6" r="1.2"/><circle cx="82.7" cy="220.3" r="1.2"/><circle cx="97.6" cy="230.5" r="1.2"/></g>
<line x1="40.60" y1="275.00" x2="134.13" y2="178.79" stroke="#ff3434" stroke-width="1.15" stroke-opacity="0.9"/>
<text x="88.00" y="164.7" font-size="7.85" text-anchor="middle" fill="#1a1a1a" font-family="'DejaVu Sans', 'Liberation Sans', sans-serif">MLP - TEST SET</text>
<text x="40.9" y="177.90" font-size="6.6" fill="#1a1a1a" font-family="'DejaVu Sans', 'Liberation Sans', sans-serif">R²</text>
<text x="69.90" y="177.90" font-size="6.7" fill="#1a1a1a" font-family="'DejaVu Sans', 'Liberation Sans', sans-serif">:</text>
<text x="75.90" y="177.90" font-size="6.75" fill="#1a1a1a" font-family="'DejaVu Sans', 'Liberation Sans', sans-serif">0.980</text>
<text x="40.9" y="186.15" font-size="6.6" fill="#1a1a1a" font-family="'DejaVu Sans', 'Liberation Sans', sans-serif">MAE</text>
<text x="70.70" y="186.15" font-size="6.7" fill="#1a1a1a" font-family="'DejaVu Sans', 'Liberation Sans', sans-serif">:</text>
<text x="76.70" y="186.15" font-size="6.75" fill="#1a1a1a" font-family="'DejaVu Sans', 'Liberation Sans', sans-serif">0.666</text>
<text x="40.9" y="194.15" font-size="6.6" fill="#1a1a1a" font-family="'DejaVu Sans', 'Liberation Sans', sans-serif">RMSE</text>
<text x="70.70" y="194.15" font-size="6.7" fill="#1a1a1a" font-family="'DejaVu Sans', 'Liberation Sans', sans-serif">:</text>
<text x="76.70" y="194.15" font-size="6.75" fill="#1a1a1a" font-family="'DejaVu Sans', 'Liberation Sans', sans-serif">2.631</text>
<text x="88.00" y="302.7" font-size="6.9" text-anchor="middle" fill="#1a1a1a" font-family="'DejaVu Sans', 'Liberation Sans', sans-serif">Actual Power Consumption (kW)</text>
<text transform="translate(11.2,227.75) rotate(-90)" x="0" y="0" font-size="6.95" text-anchor="middle" fill="#1a1a1a" font-family="'DejaVu Sans', 'Liberation Sans', sans-serif">Forecasted Power Consumption (kW)</text>
<rect x="198" y="156" width="153.5" height="149" fill="#c3c3c3"/>
<rect x="197" y="156" width="1" height="149" fill="#dadada"/>
<rect x="198" y="156" width="1" height="149" fill="#9c9c9c"/>
<rect x="199" y="156" width="1" height="149" fill="#cacaca"/>
<rect x="351" y="156" width="1" height="149" fill="#a0a0a0"/>
<rect x="352" y="156" width="1" height="149" fill="#e2e2e2"/>
<rect x="198" y="305" width="154" height="2" fill="#959595"/>
<rect x="197" y="307" width="156" height="1" fill="#e6e6e6"/>
<rect x="226.5" y="167.5" width="115.0" height="118.69999999999999" fill="#fff" stroke="#404040" stroke-width="1"/>
<line x1="236.60" y1="286.2" x2="236.60" y2="284.2" stroke="#666" stroke-width="0.6"/>
<line x1="236.60" y1="167.5" x2="236.60" y2="169.5" stroke="#666" stroke-width="0.6"/>
<line x1="226.5" y1="275.00" x2="228.5" y2="275.00" stroke="#666" stroke-width="0.6"/>
<line x1="341.5" y1="275.00" x2="339.5" y2="275.00" stroke="#666" stroke-width="0.6"/>
<text x="236.75" y="293.30" font-size="6.7" text-anchor="middle" fill="#1a1a1a" font-family="'DejaVu Sans', 'Liberation Sans', sans-serif">0</text>
<text x="224.50" y="277.40" font-size="6.7" text-anchor="end" fill="#1a1a1a" font-family="'DejaVu Sans', 'Liberation Sans', sans-serif">0</text>
<line x1="262.73" y1="286.2" x2="262.73" y2="284.2" stroke="#666" stroke-width="0.6"/>
<line x1="262.73" y1="167.5" x2="262.73" y2="169.5" stroke="#666" stroke-width="0.6"/>
<line x1="226.5" y1="248.12" x2="228.5" y2="248.12" stroke="#666" stroke-width="0.6"/>
<line x1="341.5" y1="248.12" x2="339.5" y2="248.12" stroke="#666" stroke-width="0.6"/>
<text x="262.88" y="293.30" font-size="6.7" text-anchor="middle" fill="#1a1a1a" font-family="'DejaVu Sans', 'Liberation Sans', sans-serif">50</text>
<text x="224.50" y="250.53" font-size="6.7" text-anchor="end" fill="#1a1a1a" font-family="'DejaVu Sans', 'Liberation Sans', sans-serif">50</text>
<line x1="288.85" y1="286.2" x2="288.85" y2="284.2" stroke="#666" stroke-width="0.6"/>
<line x1="288.85" y1="167.5" x2="288.85" y2="169.5" stroke="#666" stroke-width="0.6"/>
<line x1="226.5" y1="221.25" x2="228.5" y2="221.25" stroke="#666" stroke-width="0.6"/>
<line x1="341.5" y1="221.25" x2="339.5" y2="221.25" stroke="#666" stroke-width="0.6"/>
<text x="289.00" y="293.30" font-size="6.7" text-anchor="middle" fill="#1a1a1a" font-family="'DejaVu Sans', 'Liberation Sans', sans-serif">100</text>
<text x="224.50" y="223.65" font-size="6.7" text-anchor="end" fill="#1a1a1a" font-family="'DejaVu Sans', 'Liberation Sans', sans-serif">100</text>
<line x1="314.98" y1="286.2" x2="314.98" y2="284.2" stroke="#666" stroke-width="0.6"/>
<line x1="314.98" y1="167.5" x2="314.98" y2="169.5" stroke="#666" stroke-width="0.6"/>
<line x1="226.5" y1="194.38" x2="228.5" y2="194.38" stroke="#666" stroke-width="0.6"/>
<line x1="341.5" y1="194.38" x2="339.5" y2="194.38" stroke="#666" stroke-width="0.6"/>
<text x="315.12" y="293.30" font-size="6.7" text-anchor="middle" fill="#1a1a1a" font-family="'DejaVu Sans', 'Liberation Sans', sans-serif">150</text>
<text x="224.50" y="196.78" font-size="6.7" text-anchor="end" fill="#1a1a1a" font-family="'DejaVu Sans', 'Liberation Sans', sans-serif">150</text>
<line x1="341.10" y1="286.2" x2="341.10" y2="284.2" stroke="#666" stroke-width="0.6"/>
<line x1="341.10" y1="167.5" x2="341.10" y2="169.5" stroke="#666" stroke-width="0.6"/>
<line x1="226.5" y1="167.50" x2="228.5" y2="167.50" stroke="#666" stroke-width="0.6"/>
<line x1="341.5" y1="167.50" x2="339.5" y2="167.50" stroke="#666" stroke-width="0.6"/>
<text x="341.25" y="293.30" font-size="6.7" text-anchor="middle" fill="#1a1a1a" font-family="'DejaVu Sans', 'Liberation Sans', sans-serif">200</text>
<text x="224.50" y="169.90" font-size="6.7" text-anchor="end" fill="#1a1a1a" font-family="'DejaVu Sans', 'Liberation Sans', sans-serif">200</text>
<g fill="#0818ff" stroke="#000028" stroke-width="0.6"><circle cx="278.6" cy="228.7" r="1.2"/><circle cx="282.2" cy="226.9" r="1.2"/><circle cx="259.5" cy="242.0" r="1.2"/><circle cx="256.8" cy="246.3" r="1.2"/><circle cx="274.6" cy="246.3" r="1.2"/><circle cx="254.1" cy="257.7" r="1.2"/><circle cx="257.7" cy="255.0" r="1.2"/><circle cx="261.3" cy="255.0" r="1.2"/><circle cx="253.2" cy="261.3" r="1.2"/><circle cx="250.5" cy="262.3" r="1.2"/><circle cx="248.7" cy="263.2" r="1.2"/><circle cx="246.8" cy="264.1" r="1.2"/><circle cx="247.8" cy="265.0" r="1.2"/><circle cx="251.4" cy="263.2" r="1.2"/><circle cx="240.5" cy="263.7" r="1.2"/><circle cx="236.9" cy="268.6" r="1.2"/><circle cx="236.9" cy="273.5" r="1.2"/><circle cx="237.8" cy="274.9" r="1.2"/><circle cx="236.9" cy="275.8" r="1.2"/><circle cx="238.7" cy="274.0" r="1.2"/><circle cx="255.0" cy="273.5" r="1.2"/><circle cx="330.0" cy="175.2" r="1.2"/><circle cx="329.5" cy="177.0" r="1.2"/><circle cx="328.2" cy="178.8" r="1.2"/><circle cx="327.3" cy="179.7" r="1.2"/><circle cx="325.5" cy="182.4" r="1.2"/><circle cx="323.7" cy="185.1" r="1.2"/><circle cx="327.0" cy="183.3" r="1.2"/><circle cx="325.1" cy="187.3" r="1.2"/><circle cx="320.4" cy="189.1" r="1.2"/><circle cx="319.2" cy="192.7" r="1.2"/><circle cx="314.3" cy="196.0" r="1.2"/><circle cx="305.2" cy="199.3" r="1.2"/><circle cx="307.4" cy="203.8" r="1.2"/><circle cx="294.3" cy="206.0" r="1.2"/><circle cx="293.8" cy="218.7" r="1.2"/><circle cx="285.6" cy="222.3" r="1.2"/></g>
<line x1="236.60" y1="275.00" x2="330.13" y2="178.79" stroke="#ff3434" stroke-width="1.15" stroke-opacity="0.9"/>
<text x="284.00" y="164.7" font-size="7.85" text-anchor="middle" fill="#1a1a1a" font-family="'DejaVu Sans', 'Liberation Sans', sans-serif">1D-CNN - TEST SET</text>
<text x="236.9" y="177.90" font-size="6.6" fill="#1a1a1a" font-family="'DejaVu Sans', 'Liberation Sans', sans-serif">R²</text>
<text x="265.90" y="177.90" font-size="6.7" fill="#1a1a1a" font-family="'DejaVu Sans', 'Liberation Sans', sans-serif">:</text>
<text x="271.90" y="177.90" font-size="6.75" fill="#1a1a1a" font-family="'DejaVu Sans', 'Liberation Sans', sans-serif">0.993</text>
<text x="236.9" y="186.15" font-size="6.6" fill="#1a1a1a" font-family="'DejaVu Sans', 'Liberation Sans', sans-serif">MAE</text>
<text x="266.70" y="186.15" font-size="6.7" fill="#1a1a1a" font-family="'DejaVu Sans', 'Liberation Sans', sans-serif">:</text>
<text x="272.70" y="186.15" font-size="6.75" fill="#1a1a1a" font-family="'DejaVu Sans', 'Liberation Sans', sans-serif">0.491</text>
<text x="236.9" y="194.15" font-size="6.6" fill="#1a1a1a" font-family="'DejaVu Sans', 'Liberation Sans', sans-serif">RMSE</text>
<text x="266.70" y="194.15" font-size="6.7" fill="#1a1a1a" font-family="'DejaVu Sans', 'Liberation Sans', sans-serif">:</text>
<text x="272.70" y="194.15" font-size="6.75" fill="#1a1a1a" font-family="'DejaVu Sans', 'Liberation Sans', sans-serif">1.541</text>
<text x="284.00" y="302.7" font-size="6.9" text-anchor="middle" fill="#1a1a1a" font-family="'DejaVu Sans', 'Liberation Sans', sans-serif">Actual Power Consumption (kW)</text>
<text transform="translate(207.2,227.75) rotate(-90)" x="0" y="0" font-size="6.95" text-anchor="middle" fill="#1a1a1a" font-family="'DejaVu Sans', 'Liberation Sans', sans-serif">Forecasted Power Consumption (kW)</text>
<rect x="394" y="156" width="153.5" height="149" fill="#c3c3c3"/>
<rect x="393" y="156" width="1" height="149" fill="#dadada"/>
<rect x="394" y="156" width="1" height="149" fill="#9c9c9c"/>
<rect x="395" y="156" width="1" height="149" fill="#cacaca"/>
<rect x="547" y="156" width="1" height="149" fill="#a0a0a0"/>
<rect x="548" y="156" width="1" height="149" fill="#e2e2e2"/>
<rect x="394" y="305" width="154" height="2" fill="#959595"/>
<rect x="393" y="307" width="156" height="1" fill="#e6e6e6"/>
<rect x="422.5" y="167.5" width="115.0" height="118.69999999999999" fill="#fff" stroke="#404040" stroke-width="1"/>
<line x1="432.60" y1="286.2" x2="432.60" y2="284.2" stroke="#666" stroke-width="0.6"/>
<line x1="432.60" y1="167.5" x2="432.60" y2="169.5" stroke="#666" stroke-width="0.6"/>
<line x1="422.5" y1="275.00" x2="424.5" y2="275.00" stroke="#666" stroke-width="0.6"/>
<line x1="537.5" y1="275.00" x2="535.5" y2="275.00" stroke="#666" stroke-width="0.6"/>
<text x="432.75" y="293.30" font-size="6.7" text-anchor="middle" fill="#1a1a1a" font-family="'DejaVu Sans', 'Liberation Sans', sans-serif">0</text>
<text x="420.50" y="277.40" font-size="6.7" text-anchor="end" fill="#1a1a1a" font-family="'DejaVu Sans', 'Liberation Sans', sans-serif">0</text>
<line x1="458.73" y1="286.2" x2="458.73" y2="284.2" stroke="#666" stroke-width="0.6"/>
<line x1="458.73" y1="167.5" x2="458.73" y2="169.5" stroke="#666" stroke-width="0.6"/>
<line x1="422.5" y1="248.12" x2="424.5" y2="248.12" stroke="#666" stroke-width="0.6"/>
<line x1="537.5" y1="248.12" x2="535.5" y2="248.12" stroke="#666" stroke-width="0.6"/>
<text x="458.88" y="293.30" font-size="6.7" text-anchor="middle" fill="#1a1a1a" font-family="'DejaVu Sans', 'Liberation Sans', sans-serif">50</text>
<text x="420.50" y="250.53" font-size="6.7" text-anchor="end" fill="#1a1a1a" font-family="'DejaVu Sans', 'Liberation Sans', sans-serif">50</text>
<line x1="484.85" y1="286.2" x2="484.85" y2="284.2" stroke="#666" stroke-width="0.6"/>
<line x1="484.85" y1="167.5" x2="484.85" y2="169.5" stroke="#666" stroke-width="0.6"/>
<line x1="422.5" y1="221.25" x2="424.5" y2="221.25" stroke="#666" stroke-width="0.6"/>
<line x1="537.5" y1="221.25" x2="535.5" y2="221.25" stroke="#666" stroke-width="0.6"/>
<text x="485.00" y="293.30" font-size="6.7" text-anchor="middle" fill="#1a1a1a" font-family="'DejaVu Sans', 'Liberation Sans', sans-serif">100</text>
<text x="420.50" y="223.65" font-size="6.7" text-anchor="end" fill="#1a1a1a" font-family="'DejaVu Sans', 'Liberation Sans', sans-serif">100</text>
<line x1="510.98" y1="286.2" x2="510.98" y2="284.2" stroke="#666" stroke-width="0.6"/>
<line x1="510.98" y1="167.5" x2="510.98" y2="169.5" stroke="#666" stroke-width="0.6"/>
<line x1="422.5" y1="194.38" x2="424.5" y2="194.38" stroke="#666" stroke-width="0.6"/>
<line x1="537.5" y1="194.38" x2="535.5" y2="194.38" stroke="#666" stroke-width="0.6"/>
<text x="511.12" y="293.30" font-size="6.7" text-anchor="middle" fill="#1a1a1a" font-family="'DejaVu Sans', 'Liberation Sans', sans-serif">150</text>
<text x="420.50" y="196.78" font-size="6.7" text-anchor="end" fill="#1a1a1a" font-family="'DejaVu Sans', 'Liberation Sans', sans-serif">150</text>
<line x1="537.10" y1="286.2" x2="537.10" y2="284.2" stroke="#666" stroke-width="0.6"/>
<line x1="537.10" y1="167.5" x2="537.10" y2="169.5" stroke="#666" stroke-width="0.6"/>
<line x1="422.5" y1="167.50" x2="424.5" y2="167.50" stroke="#666" stroke-width="0.6"/>
<line x1="537.5" y1="167.50" x2="535.5" y2="167.50" stroke="#666" stroke-width="0.6"/>
<text x="537.25" y="293.30" font-size="6.7" text-anchor="middle" fill="#1a1a1a" font-family="'DejaVu Sans', 'Liberation Sans', sans-serif">200</text>
<text x="420.50" y="169.90" font-size="6.7" text-anchor="end" fill="#1a1a1a" font-family="'DejaVu Sans', 'Liberation Sans', sans-serif">200</text>
<g fill="#0818ff" stroke="#000028" stroke-width="0.6"><circle cx="478.6" cy="229.6" r="1.2"/><circle cx="474.9" cy="233.6" r="1.2"/><circle cx="455.5" cy="239.6" r="1.2"/><circle cx="470.6" cy="249.2" r="1.2"/><circle cx="452.8" cy="252.3" r="1.2"/><circle cx="453.7" cy="254.1" r="1.2"/><circle cx="450.1" cy="255.0" r="1.2"/><circle cx="457.3" cy="254.1" r="1.2"/><circle cx="449.2" cy="257.7" r="1.2"/><circle cx="447.4" cy="259.5" r="1.2"/><circle cx="445.6" cy="261.3" r="1.2"/><circle cx="443.8" cy="263.2" r="1.2"/><circle cx="442.8" cy="264.4" r="1.2"/><circle cx="444.7" cy="262.3" r="1.2"/><circle cx="436.5" cy="263.2" r="1.2"/><circle cx="432.9" cy="270.4" r="1.2"/><circle cx="432.9" cy="274.0" r="1.2"/><circle cx="434.7" cy="274.6" r="1.2"/><circle cx="451.4" cy="273.1" r="1.2"/><circle cx="526.0" cy="179.7" r="1.2"/><circle cx="524.2" cy="180.6" r="1.2"/><circle cx="522.4" cy="181.5" r="1.2"/><circle cx="521.5" cy="183.3" r="1.2"/><circle cx="520.15" cy="186.0" r="1.2"/><circle cx="515.2" cy="187.8" r="1.2"/><circle cx="516.1" cy="190.6" r="1.2"/><circle cx="509.7" cy="194.6" r="1.2"/><circle cx="501.2" cy="198.4" r="1.2"/><circle cx="503.4" cy="204.7" r="1.2"/><circle cx="489.8" cy="216.3" r="1.2"/><circle cx="490.7" cy="219.9" r="1.2"/><circle cx="481.3" cy="223.7" r="1.2"/></g>
<line x1="432.60" y1="275.00" x2="526.13" y2="178.79" stroke="#ff3434" stroke-width="1.15" stroke-opacity="0.9"/>
<text x="480.00" y="164.7" font-size="7.85" text-anchor="middle" fill="#1a1a1a" font-family="'DejaVu Sans', 'Liberation Sans', sans-serif">LSTM - TEST SET</text>
<text x="432.9" y="177.90" font-size="6.6" fill="#1a1a1a" font-family="'DejaVu Sans', 'Liberation Sans', sans-serif">R²</text>
<text x="461.90" y="177.90" font-size="6.7" fill="#1a1a1a" font-family="'DejaVu Sans', 'Liberation Sans', sans-serif">:</text>
<text x="467.90" y="177.90" font-size="6.75" fill="#1a1a1a" font-family="'DejaVu Sans', 'Liberation Sans', sans-serif">0.994</text>
<text x="432.9" y="186.15" font-size="6.6" fill="#1a1a1a" font-family="'DejaVu Sans', 'Liberation Sans', sans-serif">MAE</text>
<text x="462.70" y="186.15" font-size="6.7" fill="#1a1a1a" font-family="'DejaVu Sans', 'Liberation Sans', sans-serif">:</text>
<text x="468.70" y="186.15" font-size="6.75" fill="#1a1a1a" font-family="'DejaVu Sans', 'Liberation Sans', sans-serif">0.233</text>
<text x="432.9" y="194.15" font-size="6.6" fill="#1a1a1a" font-family="'DejaVu Sans', 'Liberation Sans', sans-serif">RMSE</text>
<text x="462.70" y="194.15" font-size="6.7" fill="#1a1a1a" font-family="'DejaVu Sans', 'Liberation Sans', sans-serif">:</text>
<text x="468.70" y="194.15" font-size="6.75" fill="#1a1a1a" font-family="'DejaVu Sans', 'Liberation Sans', sans-serif">1.415</text>
<text x="480.00" y="302.7" font-size="6.9" text-anchor="middle" fill="#1a1a1a" font-family="'DejaVu Sans', 'Liberation Sans', sans-serif">Actual Power Consumption (kW)</text>
<text transform="translate(403.2,227.75) rotate(-90)" x="0" y="0" font-size="6.95" text-anchor="middle" fill="#1a1a1a" font-family="'DejaVu Sans', 'Liberation Sans', sans-serif">Forecasted Power Consumption (kW)</text>
<text x="79.2" y="326.6" font-size="11" text-anchor="middle" fill="#000" font-family="'Liberation Serif', serif">(<tspan font-weight="bold">a</tspan>)</text>
<text x="275.5" y="326.6" font-size="11" text-anchor="middle" fill="#000" font-family="'Liberation Serif', serif">(<tspan font-weight="bold">b</tspan>)</text>
<text x="471.4" y="326.6" font-size="11" text-anchor="middle" fill="#000" font-family="'Liberation Serif', serif">(<tspan font-weight="bold">c</tspan>)</text>
</g></svg></body></html>
